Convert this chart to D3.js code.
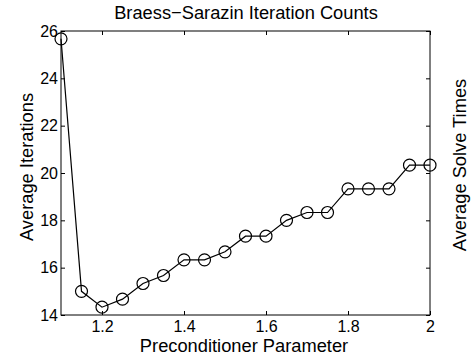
<!DOCTYPE html>
<html><head><meta charset="utf-8">
<script src="https://cdn.jsdelivr.net/npm/d3@7"></script>
<style>body{margin:0;background:#fff}svg{display:block}text{font-family:"Liberation Sans",Arial,sans-serif;fill:#000}</style>
</head><body><svg id="c" width="474" height="356"></svg>
<script>
const params = [1.1,1.15,1.2,1.25,1.3,1.35,1.4,1.45,1.5,1.55,1.6,1.65,1.7,1.75,1.8,1.85,1.9,1.95,2.0];
const iterations = [25.67,15,14.33,14.67,15.33,15.67,16.33,16.33,16.67,17.33,17.33,18,18.33,18.33,19.33,19.33,19.33,20.33,20.33];
const xTicks = [1.2,1.4,1.6,1.8,2];
const yTicks = [14,16,18,20,22,24,26];
const title = "Braess\u2212Sarazin Iteration Counts";

const svg = d3.select("#c");
const L=61,R=430,T=31,B=315;
const x = d3.scaleLinear().domain([1.1,2]).range([L,R]);
const y = d3.scaleLinear().domain([14,26]).range([B,T]);

svg.append("rect").attr("x",L).attr("y",T).attr("width",R-L).attr("height",B-T).attr("fill","none").attr("stroke","#000").attr("stroke-width",1);

const fmt = d=>String(d);
const gb = svg.append("g").attr("transform",`translate(0,${B})`).call(d3.axisBottom(x).tickValues(xTicks).tickFormat(fmt).tickSizeInner(-4).tickSizeOuter(0).tickPadding(6));
const gt = svg.append("g").attr("transform",`translate(0,${T})`).call(d3.axisTop(x).tickValues(xTicks).tickFormat("").tickSizeInner(-4).tickSizeOuter(0));
const gl = svg.append("g").attr("transform",`translate(${L},0)`).call(d3.axisLeft(y).tickValues(yTicks).tickFormat(fmt).tickSizeInner(-4).tickSizeOuter(0).tickPadding(3));
const gr = svg.append("g").attr("transform",`translate(${R},0)`).call(d3.axisRight(y).tickValues(yTicks).tickFormat("").tickSizeInner(-4).tickSizeOuter(0));
[gb,gt,gl,gr].forEach(g=>{g.select(".domain").remove();g.selectAll("line").attr("stroke","#000");g.selectAll("text").attr("font-size",16).attr("font-family","'Liberation Sans',Arial,sans-serif").attr("fill","#000");});

const line = d3.line().x((d,i)=>x(params[i])).y(d=>y(d));
svg.append("path").datum(iterations).attr("d",line).attr("fill","none").attr("stroke","#000").attr("stroke-width",1.2);
svg.selectAll("circle.m").data(iterations).enter().append("circle").attr("class","m")
  .attr("cx",(d,i)=>x(params[i])).attr("cy",d=>y(d)).attr("r",6).attr("fill","none").attr("stroke","#000").attr("stroke-width",1.2);

svg.append("text").attr("x",246).attr("y",19).attr("text-anchor","middle").attr("font-size",18.3).text(title);
svg.append("text").attr("x",244).attr("y",352).attr("text-anchor","middle").attr("font-size",18.3).text("Preconditioner Parameter");
svg.append("text").attr("transform","translate(33,167) rotate(-90)").attr("text-anchor","middle").attr("font-size",18.3).text("Average Iterations");
svg.append("text").attr("transform","translate(466,165) rotate(-90)").attr("text-anchor","middle").attr("font-size",18.3).text("Average Solve Times");
</script></body></html>
